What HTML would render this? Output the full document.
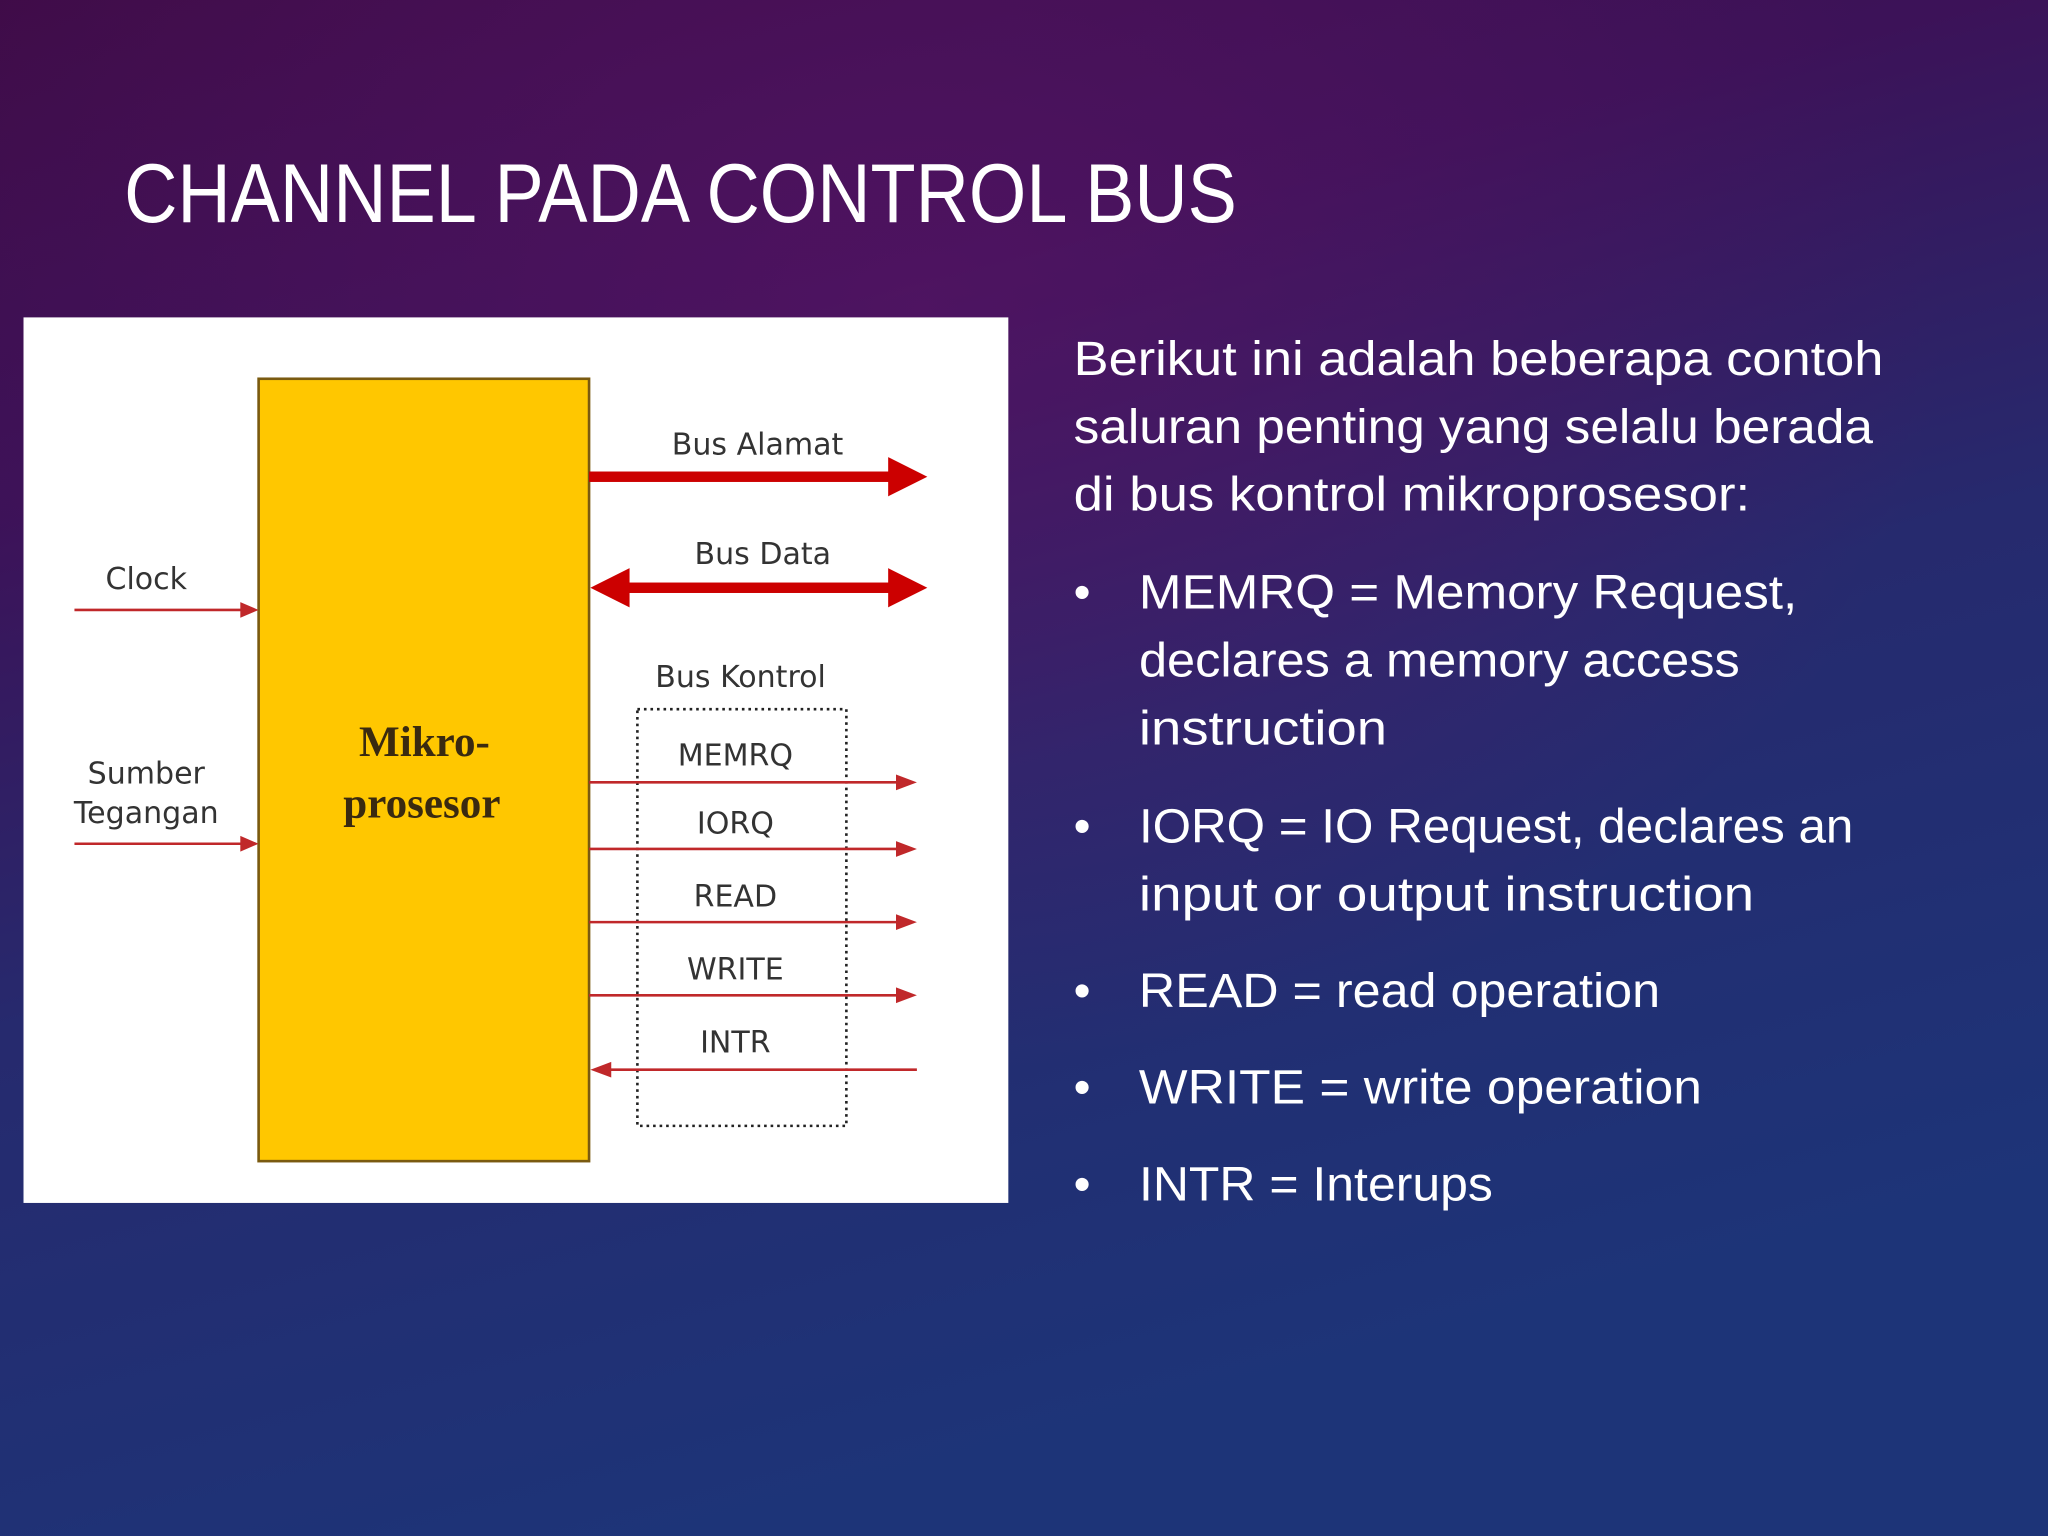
<!DOCTYPE html>
<html><head><meta charset="utf-8"><style>
html,body{margin:0;padding:0;width:2048px;height:1536px;overflow:hidden;}
svg{display:block;}
</style></head><body>
<svg width="2048" height="1536" viewBox="0 0 1568 1176" xmlns="http://www.w3.org/2000/svg">
<defs>
<linearGradient id="bg" x1="0" y1="0" x2="0.35" y2="1">
<stop offset="0" stop-color="#3f0c48"/>
<stop offset="0.3" stop-color="#3c1258"/>
<stop offset="0.6" stop-color="#262a6e"/>
<stop offset="1" stop-color="#1d3478"/>
</linearGradient>
<radialGradient id="glow" cx="0.45" cy="0.2" r="0.5">
<stop offset="0" stop-color="#5a1466" stop-opacity="0.6"/>
<stop offset="1" stop-color="#5a1466" stop-opacity="0"/>
</radialGradient>
</defs>
<rect width="1568" height="1176" fill="url(#bg)"/>
<rect width="1568" height="1176" fill="url(#glow)"/>
<text x="95" y="170" font-family="Liberation Sans, sans-serif" font-size="64" fill="#fff" textLength="852" lengthAdjust="spacingAndGlyphs">CHANNEL PADA CONTROL BUS</text>

<rect x="18" y="243" width="754" height="678" fill="#fff"/>
<rect x="198" y="290" width="253" height="599" fill="#ffc700" stroke="#7a5a10" stroke-width="2"/>
<g font-family="Liberation Serif, serif" font-weight="bold" font-size="33" fill="#3a2a10" text-anchor="middle">
<text x="325" y="579">Mikro-</text><text x="323" y="626">prosesor</text></g>

<g font-family="DejaVu Sans, sans-serif" font-size="23" fill="#333" text-anchor="middle">
<text x="580" y="348">Bus Alamat</text>
<text x="584" y="432">Bus Data</text>
<text x="567" y="526">Bus Kontrol</text>
<text x="563" y="586">MEMRQ</text>
<text x="563" y="638">IORQ</text>
<text x="563" y="694">READ</text>
<text x="563" y="750">WRITE</text>
<text x="563" y="806">INTR</text>
<text x="112" y="451">Clock</text>
<text x="112" y="600">Sumber</text>
<text x="112" y="630">Tegangan</text>
</g>
<g fill="#cc0000" stroke="none">
<rect x="451" y="361" width="235" height="8"/>
<polygon points="680,350 710,365 680,380"/>
<rect x="478" y="446" width="208" height="8"/>
<polygon points="680,435 710,450 680,465"/>
<polygon points="482,435 452,450 482,465"/>
</g>
<rect x="488" y="543" width="160" height="319" fill="none" stroke="#222" stroke-width="2" stroke-dasharray="2,3"/>
<g stroke="#c0282a" stroke-width="2">
<line x1="451" y1="599" x2="690" y2="599"/>
<line x1="451" y1="650" x2="690" y2="650"/>
<line x1="451" y1="706" x2="690" y2="706"/>
<line x1="451" y1="762" x2="690" y2="762"/>
<line x1="462" y1="819" x2="702" y2="819"/>
<line x1="57" y1="467" x2="188" y2="467"/>
<line x1="57" y1="646" x2="188" y2="646"/>
</g>
<g fill="#c0282a">
<polygon points="686,593 702,599 686,605"/>
<polygon points="686,644 702,650 686,656"/>
<polygon points="686,700 702,706 686,712"/>
<polygon points="686,756 702,762 686,768"/>
<polygon points="468,813 452,819 468,825"/>
<polygon points="184,461 198,467 184,473"/>
<polygon points="184,640 198,646 184,652"/>
</g>

<g font-family="Liberation Sans, sans-serif" font-size="37" fill="#fff">
<text x="822" y="287" textLength="620" lengthAdjust="spacingAndGlyphs">Berikut ini adalah beberapa contoh</text>
<text x="822" y="339" textLength="612" lengthAdjust="spacingAndGlyphs">saluran penting yang selalu berada</text>
<text x="822" y="391" textLength="518" lengthAdjust="spacingAndGlyphs">di bus kontrol mikroprosesor:</text>
<text x="822" y="466">•</text>
<text x="872" y="466" textLength="504" lengthAdjust="spacingAndGlyphs">MEMRQ = Memory Request,</text>
<text x="872" y="518" textLength="460" lengthAdjust="spacingAndGlyphs">declares a memory access</text>
<text x="872" y="570" textLength="190" lengthAdjust="spacingAndGlyphs">instruction</text>
<text x="822" y="645">•</text>
<text x="872" y="645" textLength="547" lengthAdjust="spacingAndGlyphs">IORQ = IO Request, declares an</text>
<text x="872" y="697" textLength="471" lengthAdjust="spacingAndGlyphs">input or output instruction</text>
<text x="822" y="771">•</text>
<text x="872" y="771" textLength="399" lengthAdjust="spacingAndGlyphs">READ = read operation</text>
<text x="822" y="845">•</text>
<text x="872" y="845" textLength="431" lengthAdjust="spacingAndGlyphs">WRITE = write operation</text>
<text x="822" y="919">•</text>
<text x="872" y="919" textLength="271" lengthAdjust="spacingAndGlyphs">INTR = Interups</text>
</g>
</svg>
</body></html>
